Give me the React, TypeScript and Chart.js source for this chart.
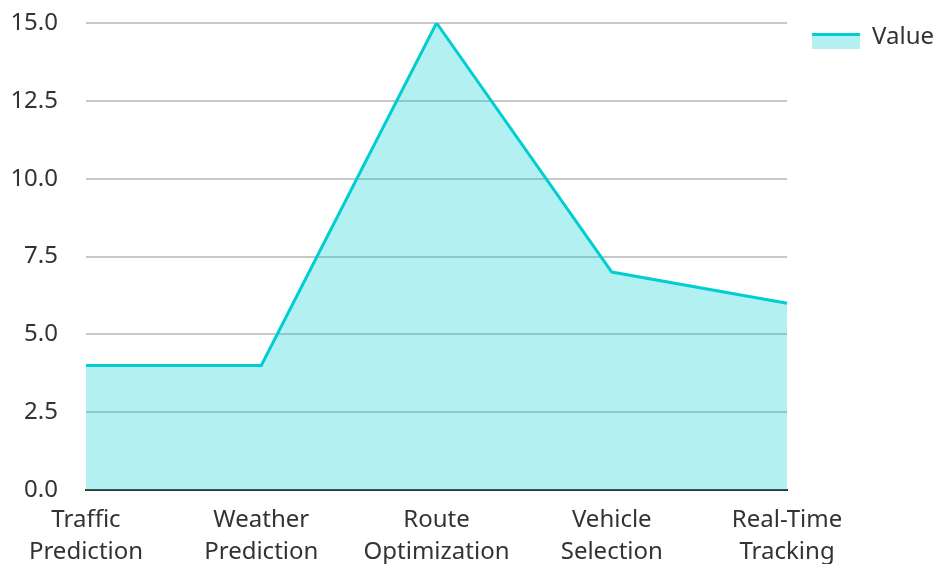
import React, { useEffect, useRef } from "react";
import { Chart, registerables } from "chart.js";

Chart.register(...registerables);

const categories: string[][] = [
  ["Traffic", "Prediction"],
  ["Weather", "Prediction"],
  ["Route", "Optimization"],
  ["Vehicle", "Selection"],
  ["Real-Time", "Tracking"],
];
const values: number[] = [4, 4, 15, 7, 6];
const seriesName = "Value";
const yMin = 0;
const yMax = 15;
const yStep = 2.5;

const LINE = "#00CED1";
const FILL = "rgba(0, 206, 209, 0.3)";
const TEXT = "#333333";
const GRID = "#c8c8c8";
const FONT = "'Noto Sans', sans-serif";

const legendTweak = {
  id: "legendTweak",
  afterLayout(chart: any) {
    const lg = chart.legend;
    if (!lg) return;
    lg.left += 15;
    lg.right += 15;
    lg.top -= 8;
    lg.bottom -= 8;
  },
  afterDraw(chart: any) {
    const lg = chart.legend;
    if (!lg || !lg.legendHitBoxes) return;
    const ctx = chart.ctx;
    const opts = lg.options.labels;
    lg.legendHitBoxes.forEach((hb: any) => {
      const y = hb.top + (hb.height - opts.boxHeight) / 2 + 4;
      ctx.save();
      ctx.fillStyle = FILL;
      ctx.fillRect(hb.left, y, opts.boxWidth, opts.boxHeight);
      ctx.fillStyle = LINE;
      ctx.fillRect(hb.left, y, opts.boxWidth, 3);
      ctx.restore();
    });
  },
};

export default function App() {
  const ref = useRef<HTMLCanvasElement | null>(null);
  useEffect(() => {
    if (!ref.current) return;
    const chart = new Chart(ref.current, {
      type: "line",
      data: {
        labels: categories,
        datasets: [
          {
            label: seriesName,
            data: values,
            borderColor: LINE,
            backgroundColor: FILL,
            borderWidth: 3,
            fill: "origin",
            tension: 0,
            pointRadius: 0,
          },
        ],
      },
      plugins: [legendTweak],
      options: {
        responsive: false,
        animation: false,
        layout: { padding: { top: 23, left: 0, right: 8, bottom: 0 } },
        plugins: {
          tooltip: { enabled: false },
          legend: {
            position: "right",
            align: "start",
            labels: {
              boxWidth: 48,
              boxHeight: 16,
              padding: 10,
              color: TEXT,
              font: { family: FONT, size: 24 },
              generateLabels: (chart: any) =>
                chart.data.datasets.map((ds: any, i: number) => ({
                  text: ds.label,
                  fillStyle: "rgba(0,0,0,0)",
                  strokeStyle: "rgba(0,0,0,0)",
                  lineWidth: 0,
                  hidden: false,
                  datasetIndex: i,
                  fontColor: TEXT,
                })),
            },
          },
        },
        scales: {
          x: {
            grid: { display: false, drawTicks: false },
            border: { display: true, color: TEXT, width: 2 },
            ticks: {
              color: TEXT,
              font: { family: FONT, size: 24, lineHeight: 1.333 },
              padding: 14,
              maxRotation: 0,
              autoSkip: false,
            },
            afterFit: (s: any) => {
              s.paddingLeft = 0;
              s.paddingRight = 0;
              s.height = 88;
            },
          },
          y: {
            min: yMin,
            max: yMax,
            grid: { color: GRID, lineWidth: 2, drawTicks: false },
            border: { display: false },
            ticks: {
              stepSize: yStep,
              color: TEXT,
              font: { family: FONT, size: 24 },
              padding: 28,
              callback: (v: any) => Number(v).toFixed(1),
            },
            afterFit: (s: any) => {
              s.paddingTop = 0;
              s.paddingBottom = 0;
              s.width = 86;
            },
          },
        },
      },
    });
    return () => chart.destroy();
  }, []);
  return (
    <div style={{ position: "fixed", top: 0, left: 0, width: 937, height: 564, overflow: "hidden" }}>
      <canvas ref={ref} width={937} height={578} style={{ width: 937, height: 578, display: "block" }} />
    </div>
  );
}
